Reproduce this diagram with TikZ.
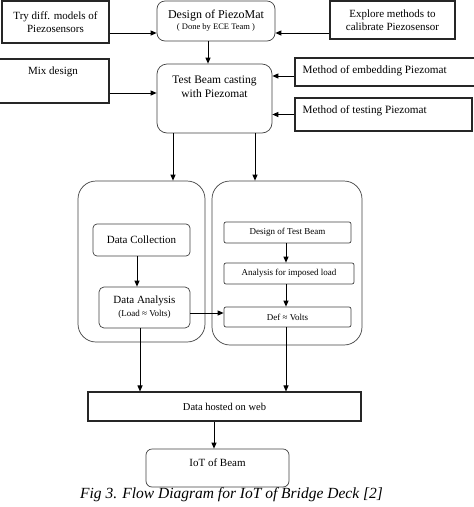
\documentclass[tikz,border=0pt]{standalone}
\usepackage{fontspec}
\setmainfont{Liberation Serif}
\usetikzlibrary{arrows.meta}
\begin{document}
\begin{tikzpicture}[x=1pt,y=-1pt,
  sq/.style={draw=black!85, line width=1.1pt, inner sep=0pt, align=center, font=\fontsize{11}{13.5}\selectfont},
  rd/.style={draw=black!75, line width=0.7pt, inner sep=0pt, align=center},
  sm/.style={rd, rounded corners=2pt, font=\fontsize{9}{11}\selectfont},
  lbl/.style={inner sep=0pt, align=center},
  arr/.style={draw=black, line width=0.9pt, -{Triangle[length=6pt,width=5pt]}},
  ln/.style={draw=black, line width=0.9pt}]
\useasboundingbox (0,0) rectangle (474,507);
% top row
\node[sq, minimum width=107pt, minimum height=42pt] (try) at (55.5,22) {Try diff. models of\\Piezosensors};
\node[rd, rounded corners=8pt, minimum width=118pt, minimum height=40pt] (design) at (216,21)
  {\fontsize{12}{14}\selectfont Design of PiezoMat\\[-1pt]\fontsize{8.5}{10}\selectfont ( Done by ECE Team )};
\node[sq, minimum width=125pt, minimum height=38pt] (explore) at (392.5,20) {Explore methods to\\calibrate Piezosensor};
% second row
\node[sq, minimum width=112pt, minimum height=44pt,
  label={[lbl, font=\fontsize{11}{13.5}\selectfont, anchor=center, yshift=-13pt]north:Mix design}] (mix) at (53,81) {};
\node[rd, rounded corners=10pt, minimum width=115pt, minimum height=69pt,
  label={[lbl, font=\fontsize{11.5}{14}\selectfont, anchor=center, yshift=-23pt]north:Test Beam casting\\with Piezomat}] (test) at (214.5,98.5) {};
\node[sq, minimum width=181pt, minimum height=28pt,
  label={[lbl, font=\fontsize{11.2}{13.5}\selectfont, anchor=west, xshift=8pt, yshift=1pt]west:Method of embedding Piezomat}] (embed) at (385.5,72) {};
\node[sq, minimum width=177pt, minimum height=33pt,
  label={[lbl, font=\fontsize{11.2}{13.5}\selectfont, anchor=west, xshift=8pt, yshift=4pt]west:Method of testing Piezomat}] (testing) at (383.5,114.5) {};
% containers
\node[rd, rounded corners=18pt, minimum width=127pt, minimum height=161pt] (left) at (141.5,261.5) {};
\node[rd, rounded corners=18pt, minimum width=150pt, minimum height=164pt] (right) at (287,263) {};
% inner left
\node[rd, rounded corners=4pt, minimum width=97pt, minimum height=32pt, font=\fontsize{11}{13}\selectfont] (datacol) at (141.5,240) {Data Collection};
\node[rd, rounded corners=5pt, minimum width=91pt, minimum height=41pt] (dataan) at (144.5,307.5)
  {\fontsize{11}{13}\selectfont Data Analysis\\[1pt]\fontsize{9}{11}\selectfont (Load ≈ Volts)};
% inner right
\node[sm, minimum width=127pt, minimum height=21pt] (dtb) at (287.5,232.5) {Design of Test Beam};
\node[sm, minimum width=130pt, minimum height=21pt] (aload) at (289,273.5) {Analysis for imposed load};
\node[sm, minimum width=127pt, minimum height=20pt] (def) at (287.5,317) {Def ≈ Volts};
% bottom
\node[sq, minimum width=273pt, minimum height=29pt, font=\fontsize{10.5}{12}\selectfont] (web) at (224.5,406.5) {Data hosted on web};
\node[rd, rounded corners=6pt, minimum width=143pt, minimum height=38pt,
  label={[lbl, font=\fontsize{11}{13}\selectfont, anchor=center, yshift=-14pt]north:IoT of Beam}] (iot) at (217.5,468) {};
\node[lbl, font=\itshape\fontsize{15.5}{18}\selectfont] (cap) at (231.5,495) {Fig 3. Flow Diagram for IoT of Bridge Deck [2]};
% connectors
\draw[arr] ([yshift=-11pt]try.east) -- ([yshift=-11pt]try.east -| design.west);
\draw[arr] ([yshift=-13pt]explore.west) -- ([yshift=-13pt]explore.west -| design.east);
\draw[arr] ([xshift=-8pt]design.south) -- ([xshift=-8pt]design.south |- test.north);
\draw[arr] ([yshift=-12pt]mix.east) -- ([yshift=-12pt]mix.east -| test.west);
\draw[arr] ([yshift=-4pt]embed.west) -- ([yshift=-4pt]embed.west -| test.east);
\draw[arr] (testing.west) -- (testing.west -| test.east);
\draw[arr] ([xshift=-41.5pt]test.south) -- ([xshift=-41.5pt]test.south |- left.north);
\draw[arr] ([xshift=40.5pt]test.south) -- ([xshift=40.5pt]test.south |- right.north);
\draw[arr] ([xshift=-4.5pt]datacol.south) -- ([xshift=-4.5pt]datacol.south |- dataan.north);
\draw[arr] ([yshift=-5.5pt]dataan.east) -- ([yshift=-5.5pt]dataan.east -| def.west);
\draw[arr] ([xshift=-1.5pt]dtb.south) -- ([xshift=-1.5pt]dtb.south |- aload.north);
\draw[arr] ([xshift=-1.5pt]dtb.south |- aload.south) -- ([xshift=-1.5pt]dtb.south |- def.north);
\draw[arr] ([xshift=-4.5pt]dataan.south) -- ([xshift=-4.5pt]dataan.south |- web.north);
\draw[arr] ([xshift=-1.5pt]def.south) -- ([xshift=-1.5pt]def.south |- web.north);
\draw[arr] ([xshift=-10.5pt]web.south) -- ([xshift=-10.5pt]web.south |- iot.north);
\end{tikzpicture}
\end{document}
